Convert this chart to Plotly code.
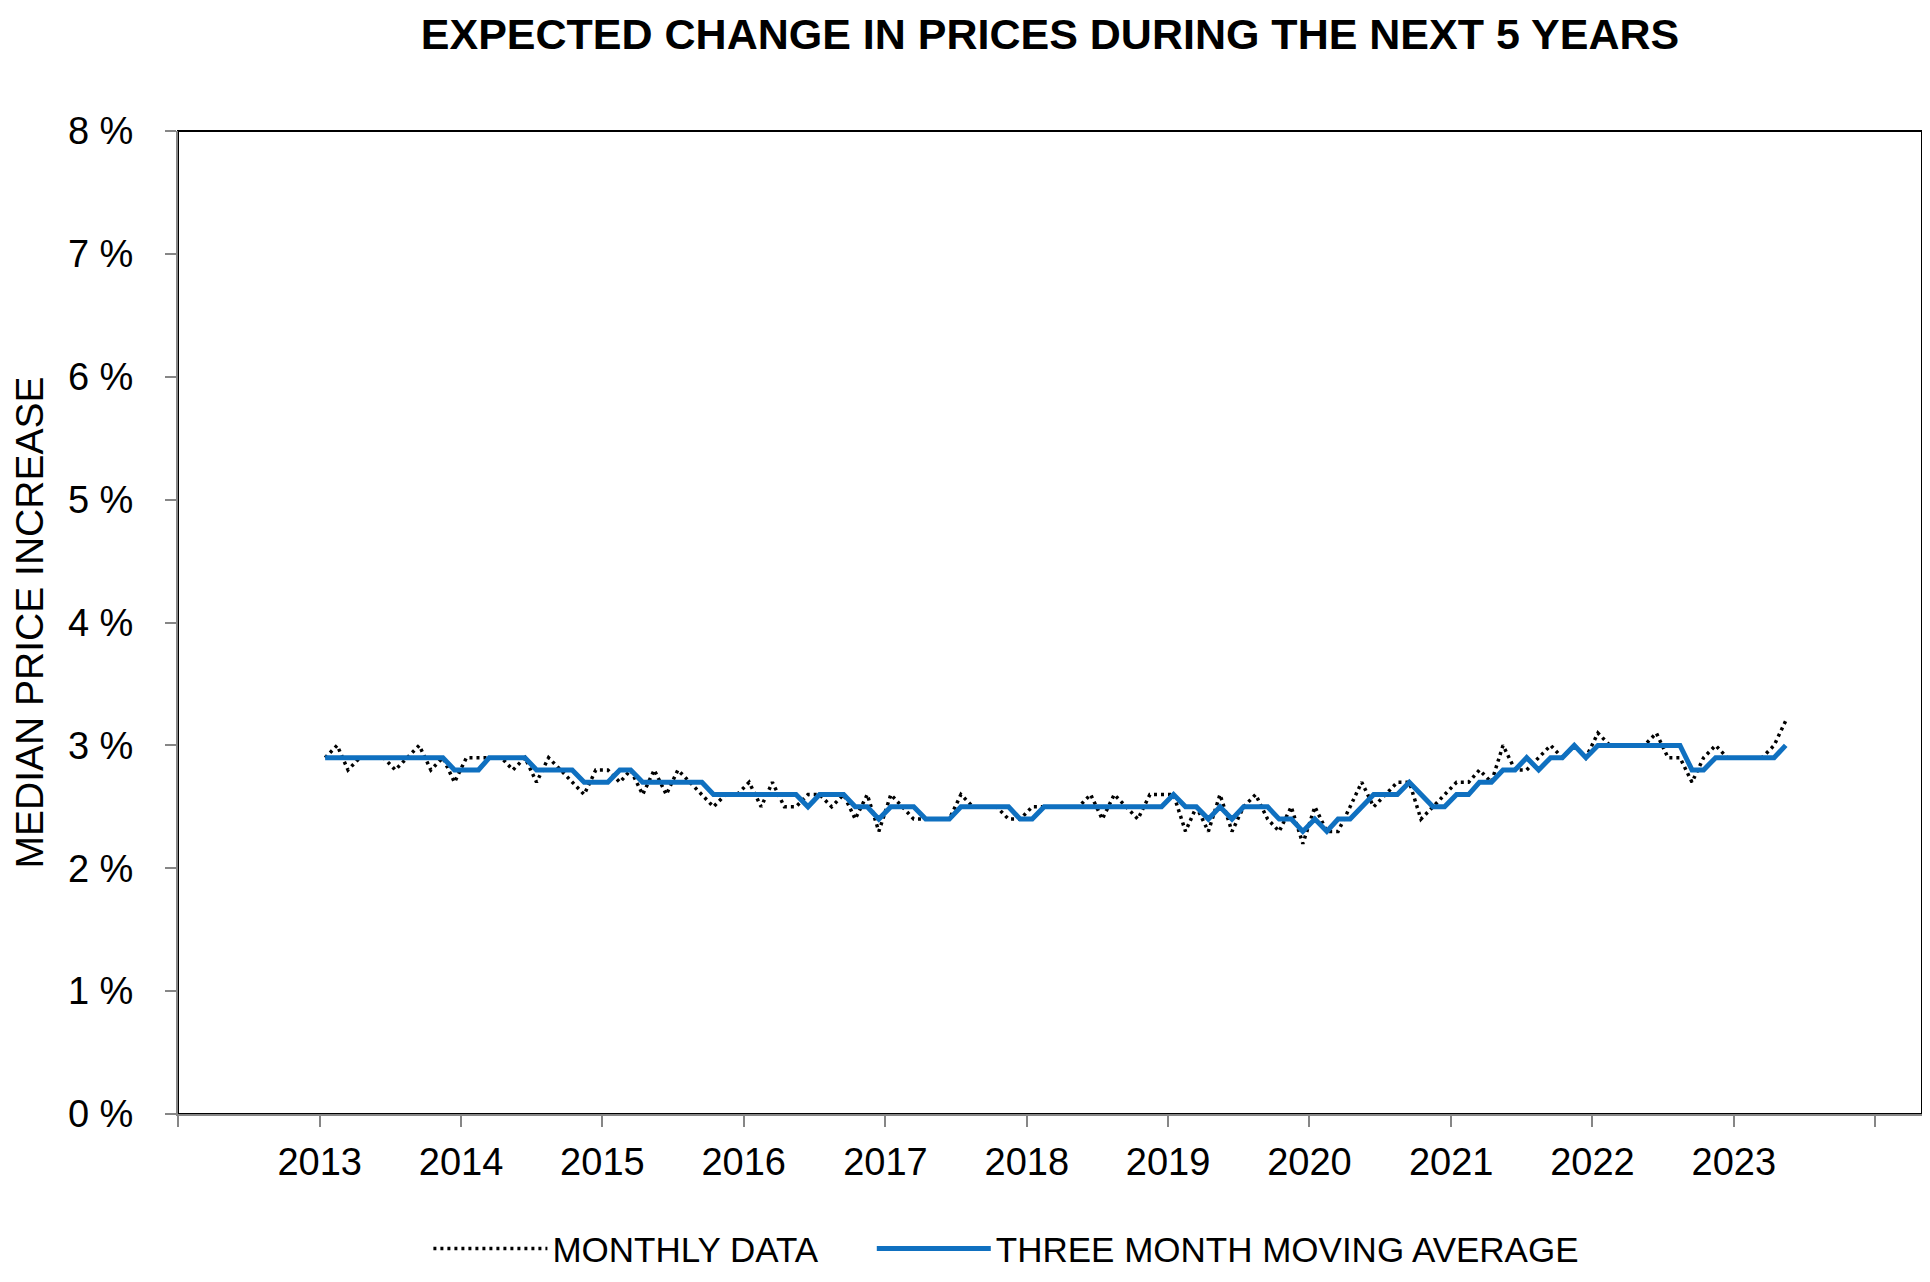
import pandas as pd
import plotly.graph_objects as go

# Chart text
TITLE = "EXPECTED CHANGE IN PRICES DURING THE NEXT 5 YEARS"
Y_TITLE = "MEDIAN PRICE INCREASE"
FIRST_MONTH = "2013-01"

# Monthly median expected price increase (%), Jan 2013 .. May 2023
monthly_data = [
    2.9, 3.0, 2.8, 2.9, 2.9, 2.9, 2.8, 2.9, 3.0, 2.8,
    2.9, 2.7, 2.9, 2.9, 2.9, 2.9, 2.8, 2.9, 2.7, 2.9,
    2.8, 2.7, 2.6, 2.8, 2.8, 2.7, 2.8, 2.6, 2.8, 2.6,
    2.8, 2.7, 2.6, 2.5, 2.6, 2.6, 2.7, 2.5, 2.7, 2.5,
    2.5, 2.6, 2.6, 2.5, 2.6, 2.4, 2.6, 2.3, 2.6, 2.5,
    2.4, 2.4, 2.4, 2.4, 2.6, 2.5, 2.5, 2.5, 2.4, 2.4,
    2.5, 2.5, 2.5, 2.5, 2.5, 2.6, 2.4, 2.6, 2.5, 2.4,
    2.6, 2.6, 2.6, 2.3, 2.5, 2.3, 2.6, 2.3, 2.5, 2.6,
    2.4, 2.3, 2.5, 2.2, 2.5, 2.3, 2.3, 2.5, 2.7, 2.5,
    2.6, 2.7, 2.7, 2.4, 2.5, 2.6, 2.7, 2.7, 2.8, 2.7,
    3.0, 2.8, 2.8, 2.9, 3.0, 2.9, 3.0, 2.9, 3.1, 3.0,
    3.0, 3.0, 3.0, 3.1, 2.9, 2.9, 2.7, 2.9, 3.0, 2.9,
    2.9, 2.9, 2.9, 3.0, 3.2,
]

# Three month moving average (%), same months
moving_average = [
    2.9, 2.9, 2.9, 2.9, 2.9, 2.9, 2.9, 2.9, 2.9, 2.9,
    2.9, 2.8, 2.8, 2.8, 2.9, 2.9, 2.9, 2.9, 2.8, 2.8,
    2.8, 2.8, 2.7, 2.7, 2.7, 2.8, 2.8, 2.7, 2.7, 2.7,
    2.7, 2.7, 2.7, 2.6, 2.6, 2.6, 2.6, 2.6, 2.6, 2.6,
    2.6, 2.5, 2.6, 2.6, 2.6, 2.5, 2.5, 2.4, 2.5, 2.5,
    2.5, 2.4, 2.4, 2.4, 2.5, 2.5, 2.5, 2.5, 2.5, 2.4,
    2.4, 2.5, 2.5, 2.5, 2.5, 2.5, 2.5, 2.5, 2.5, 2.5,
    2.5, 2.5, 2.6, 2.5, 2.5, 2.4, 2.5, 2.4, 2.5, 2.5,
    2.5, 2.4, 2.4, 2.3, 2.4, 2.3, 2.4, 2.4, 2.5, 2.6,
    2.6, 2.6, 2.7, 2.6, 2.5, 2.5, 2.6, 2.6, 2.7, 2.7,
    2.8, 2.8, 2.9, 2.8, 2.9, 2.9, 3.0, 2.9, 3.0, 3.0,
    3.0, 3.0, 3.0, 3.0, 3.0, 3.0, 2.8, 2.8, 2.9, 2.9,
    2.9, 2.9, 2.9, 2.9, 3.0,
]

# Axis ticks
year_ticks = list(range(2012, 2025))
year_labels = [""] + [str(y) for y in range(2013, 2024)] + [""]
pct_ticks = list(range(0, 9))
pct_labels = [f"{v} %" for v in pct_ticks]

FONT = "Liberation Sans, Arial, sans-serif"
AXIS_GRAY = "#868686"
BLUE = "#0F70C0"
LEGEND_GAP = "&nbsp;" * 5  # extra room between the two legend entries

# mid-month positions for each observation
months = pd.period_range(FIRST_MONTH, periods=len(monthly_data), freq="M")
dates = months.to_timestamp() + pd.Timedelta(days=14)

fig = go.Figure()

fig.add_trace(go.Scatter(
    x=dates, y=monthly_data,
    mode="lines",
    name="MONTHLY DATA" + LEGEND_GAP,
    line=dict(color="black", width=3.5, dash="3px,4px"),
))

fig.add_trace(go.Scatter(
    x=dates, y=moving_average,
    mode="lines",
    name="THREE MONTH MOVING AVERAGE",
    line=dict(color=BLUE, width=5),
))

# black frame on top/right, grey axis lines drawn over it on left/bottom
fig.add_shape(
    type="rect", xref="paper", yref="paper", x0=0, x1=1, y0=0, y1=1,
    line=dict(color="black", width=2), layer="below",
)

fig.update_layout(
    width=1930,
    height=1282,
    margin=dict(l=170, r=16, t=123, b=162),
    paper_bgcolor="white",
    plot_bgcolor="white",
    font=dict(family=FONT, color="black"),
    title=dict(
        text=f"<b>{TITLE}</b>",
        x=0.5, xref="paper", xanchor="center",
        y=1 - 26 / 1282, yanchor="middle",
        font=dict(size=43, family=FONT, color="black"),
    ),
    showlegend=True,
    legend=dict(
        orientation="h",
        x=0.475, xanchor="center",
        y=-0.137, yanchor="middle",
        font=dict(size=35, family=FONT, color="black"),
        itemwidth=114,
        bgcolor="rgba(0,0,0,0)",
    ),
)

fig.update_xaxes(
    type="date",
    range=["2012-01-01", "2024-05-01"],
    tickmode="array",
    tickvals=[f"{y}-01-01" for y in year_ticks],
    ticktext=year_labels,
    ticks="outside", ticklen=11, tickwidth=2, tickcolor=AXIS_GRAY,
    showline=True, linecolor=AXIS_GRAY, linewidth=2,
    showgrid=False, zeroline=False,
    tickfont=dict(size=38, family=FONT, color="black"),
    ticklabelstandoff=2,
)

fig.update_yaxes(
    range=[0, 8],
    tickmode="array",
    tickvals=pct_ticks,
    ticktext=pct_labels,
    ticks="outside", ticklen=11, tickwidth=2, tickcolor=AXIS_GRAY,
    showline=True, linecolor=AXIS_GRAY, linewidth=2,
    showgrid=False, zeroline=False,
    tickfont=dict(size=38, family=FONT, color="black"),
    ticklabelstandoff=24,
    title=dict(text=Y_TITLE, font=dict(size=39, family=FONT, color="black"), standoff=14),
)

fig.write_html("out.html")
